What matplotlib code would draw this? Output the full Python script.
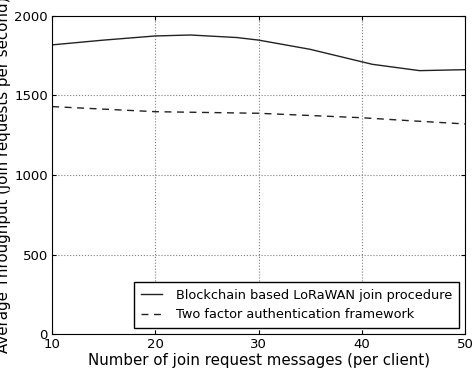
import matplotlib
matplotlib.use('Agg')
import matplotlib.pyplot as plt

# join request messages per client
x_block = [10, 15, 20, 23.4, 27.9, 30, 35, 41, 45.6, 50]
y_block = [1818, 1848, 1874, 1880, 1864, 1848, 1790, 1696, 1656, 1662]

x_two = [10, 20, 30, 40, 45, 50]
y_two = [1430, 1398, 1388, 1360, 1340, 1321]

fig = plt.figure(figsize=(4.74, 3.7), dpi=100)
ax = fig.add_axes([0.11, 0.097, 0.871, 0.86])

ax.plot(x_block, y_block, color='#222222', ls='-', lw=1, label='Blockchain based LoRaWAN join procedure')
ax.plot(x_two, y_two, color='#222222', ls='--', dashes=(5, 4), lw=1, label='Two factor authentication framework')

ax.set_xlim(10, 50)
ax.set_ylim(0, 2000)
ax.set_xticks([10, 20, 30, 40, 50])
ax.set_yticks([0, 500, 1000, 1500, 2000])
ax.tick_params(direction='in', top=True, right=True, labelsize=9.5, length=3, pad=3)
ax.grid(True, linestyle=':', color='gray', lw=0.8)

ax.set_xlabel('Number of join request messages (per client)', fontsize=10.8, labelpad=1)
ax.set_ylabel('Average Throughput (join requests per second)', fontsize=10.8, labelpad=2)

leg = ax.legend(loc='lower right', fontsize=9.3, fancybox=False, edgecolor='black',
                framealpha=1, handlelength=1.6, handletextpad=1.1, borderpad=0.5,
                borderaxespad=0.5)
leg.get_frame().set_linewidth(1)

fig.savefig('out.png', dpi=100)
